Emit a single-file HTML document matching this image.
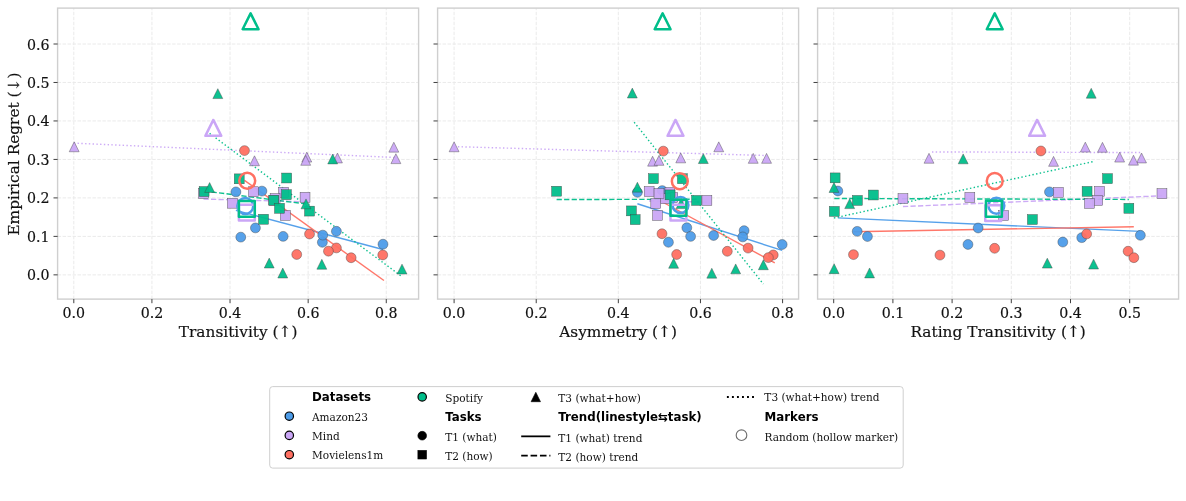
<!DOCTYPE html>
<html lang="en"><head><meta charset="utf-8"><title>Empirical Regret vs. Transitivity, Asymmetry and Rating Transitivity</title>
<style>html,body{margin:0;padding:0;background:#fff}body{width:1186px;height:501px;overflow:hidden}svg{display:block}</style>
</head><body>
<svg width="1186" height="501" viewBox="0 0 1186 501">
<rect width="1186" height="501" fill="#ffffff"/>
<g id="ax1">
<path d="M73.8 299.1V8.1M151.92 299.1V8.1M230.04 299.1V8.1M308.16 299.1V8.1M386.28 299.1V8.1M57.6 274.85H418.6M57.6 236.38H418.6M57.6 197.9H418.6M57.6 159.43H418.6M57.6 120.95H418.6M57.6 82.48H418.6M57.6 44H418.6" fill="none" stroke="#e9e9e9" stroke-width="0.94" stroke-dasharray="3.48 1.5"/>
<clipPath id="c0"><rect x="57.6" y="8.1" width="361.0" height="291.0"/></clipPath>
<g clip-path="url(#c0)">
<path d="M235.9 210.4L383 249.46" fill="none" stroke="#4d9ce9" stroke-width="1.42" opacity="0.95"/>
<path d="M203.48 199.05L305.04 201.75" fill="none" stroke="#caa6f6" stroke-width="1.42" stroke-dasharray="5.25 2.27" opacity="0.95"/>
<path d="M73.8 143.11L395.89 157.54" fill="none" stroke="#caa6f6" stroke-width="1.42" stroke-dasharray="1.42 2.34" opacity="0.95"/>
<path d="M244.49 180.36L383.94 280.54" fill="none" stroke="#ff7062" stroke-width="1.42" opacity="0.95"/>
<path d="M204.1 190.97L309.53 204.44" fill="none" stroke="#00be8a" stroke-width="1.42" stroke-dasharray="5.25 2.27" opacity="0.95"/>
<path d="M209.61 133.38L402.02 276.77" fill="none" stroke="#00be8a" stroke-width="1.42" stroke-dasharray="1.42 2.34" opacity="0.95"/>
<g fill-opacity="0.95">
<circle cx="235.9" cy="191.9" r="4.95" fill="#4d9ce9" stroke="#444444" stroke-width="0.42"/>
<circle cx="261.91" cy="191.09" r="4.95" fill="#4d9ce9" stroke="#444444" stroke-width="0.42"/>
<circle cx="255.43" cy="227.91" r="4.95" fill="#4d9ce9" stroke="#444444" stroke-width="0.42"/>
<circle cx="240.78" cy="237.14" r="4.95" fill="#4d9ce9" stroke="#444444" stroke-width="0.42"/>
<circle cx="283.16" cy="236.38" r="4.95" fill="#4d9ce9" stroke="#444444" stroke-width="0.42"/>
<circle cx="322.38" cy="242.34" r="4.95" fill="#4d9ce9" stroke="#444444" stroke-width="0.42"/>
<circle cx="322.73" cy="235.11" r="4.95" fill="#4d9ce9" stroke="#444444" stroke-width="0.42"/>
<circle cx="336.4" cy="231.3" r="4.95" fill="#4d9ce9" stroke="#444444" stroke-width="0.42"/>
<circle cx="383" cy="244.19" r="4.95" fill="#4d9ce9" stroke="#444444" stroke-width="0.42"/>
</g>
<g fill-opacity="0.95">
<rect x="198.53" y="188.56" width="9.9" height="9.9" fill="#caa6f6" stroke="#444444" stroke-width="0.42"/>
<rect x="248.53" y="186.79" width="9.9" height="9.9" fill="#caa6f6" stroke="#444444" stroke-width="0.42"/>
<rect x="227.43" y="198.26" width="9.9" height="9.9" fill="#caa6f6" stroke="#444444" stroke-width="0.42"/>
<rect x="300.09" y="192.37" width="9.9" height="9.9" fill="#caa6f6" stroke="#444444" stroke-width="0.42"/>
<rect x="280.44" y="210.46" width="9.9" height="9.9" fill="#caa6f6" stroke="#444444" stroke-width="0.42"/>
<rect x="278.6" y="187.33" width="9.9" height="9.9" fill="#caa6f6" stroke="#444444" stroke-width="0.42"/>
<rect x="270.13" y="193.57" width="9.9" height="9.9" fill="#caa6f6" stroke="#444444" stroke-width="0.42"/>
<rect x="268.84" y="195.45" width="9.9" height="9.9" fill="#caa6f6" stroke="#444444" stroke-width="0.42"/>
</g>
<g fill-opacity="0.95">
<path d="M74.19 141.86L69.24 151.76L79.14 151.76Z" fill="#caa6f6" stroke="#444444" stroke-width="0.42"/>
<path d="M254.49 155.82L249.54 165.72L259.44 165.72Z" fill="#caa6f6" stroke="#444444" stroke-width="0.42"/>
<path d="M306.79 152.17L301.84 162.07L311.74 162.07Z" fill="#caa6f6" stroke="#444444" stroke-width="0.42"/>
<path d="M305.7 155.4L300.75 165.3L310.65 165.3Z" fill="#caa6f6" stroke="#444444" stroke-width="0.42"/>
<path d="M337.46 153.05L332.51 162.95L342.41 162.95Z" fill="#caa6f6" stroke="#444444" stroke-width="0.42"/>
<path d="M393.82 142.24L388.87 152.14L398.77 152.14Z" fill="#caa6f6" stroke="#444444" stroke-width="0.42"/>
<path d="M395.89 153.71L390.94 163.61L400.84 163.61Z" fill="#caa6f6" stroke="#444444" stroke-width="0.42"/>
</g>
<g fill-opacity="0.95">
<circle cx="244.49" cy="150.58" r="4.95" fill="#ff7062" stroke="#444444" stroke-width="0.42"/>
<circle cx="309.53" cy="233.99" r="4.95" fill="#ff7062" stroke="#444444" stroke-width="0.42"/>
<circle cx="296.72" cy="254.46" r="4.95" fill="#ff7062" stroke="#444444" stroke-width="0.42"/>
<circle cx="336.4" cy="247.92" r="4.95" fill="#ff7062" stroke="#444444" stroke-width="0.42"/>
<circle cx="328.47" cy="251.19" r="4.95" fill="#ff7062" stroke="#444444" stroke-width="0.42"/>
<circle cx="351.13" cy="257.73" r="4.95" fill="#ff7062" stroke="#444444" stroke-width="0.42"/>
<circle cx="382.76" cy="254.96" r="4.95" fill="#ff7062" stroke="#444444" stroke-width="0.42"/>
</g>
<g fill-opacity="0.95">
<rect x="199.15" y="186.6" width="9.9" height="9.9" fill="#00be8a" stroke="#444444" stroke-width="0.42"/>
<rect x="234.27" y="173.9" width="9.9" height="9.9" fill="#00be8a" stroke="#444444" stroke-width="0.42"/>
<rect x="281.73" y="173.06" width="9.9" height="9.9" fill="#00be8a" stroke="#444444" stroke-width="0.42"/>
<rect x="281.45" y="189.72" width="9.9" height="9.9" fill="#00be8a" stroke="#444444" stroke-width="0.42"/>
<rect x="268.84" y="195.26" width="9.9" height="9.9" fill="#00be8a" stroke="#444444" stroke-width="0.42"/>
<rect x="274.54" y="203.34" width="9.9" height="9.9" fill="#00be8a" stroke="#444444" stroke-width="0.42"/>
<rect x="304.58" y="206.15" width="9.9" height="9.9" fill="#00be8a" stroke="#444444" stroke-width="0.42"/>
<rect x="258.56" y="214.3" width="9.9" height="9.9" fill="#00be8a" stroke="#444444" stroke-width="0.42"/>
</g>
<g fill-opacity="0.95">
<path d="M209.61 182.56L204.66 192.46L214.56 192.46Z" fill="#00be8a" stroke="#444444" stroke-width="0.42"/>
<path d="M217.81 88.68L212.86 98.58L222.76 98.58Z" fill="#00be8a" stroke="#444444" stroke-width="0.42"/>
<path d="M306.01 198.91L301.06 208.81L310.96 208.81Z" fill="#00be8a" stroke="#444444" stroke-width="0.42"/>
<path d="M332.69 154.01L327.74 163.91L337.64 163.91Z" fill="#00be8a" stroke="#444444" stroke-width="0.42"/>
<path d="M269.22 258.09L264.27 267.99L274.17 267.99Z" fill="#00be8a" stroke="#444444" stroke-width="0.42"/>
<path d="M282.77 268.09L277.82 277.99L287.72 277.99Z" fill="#00be8a" stroke="#444444" stroke-width="0.42"/>
<path d="M321.83 259.32L316.88 269.22L326.78 269.22Z" fill="#00be8a" stroke="#444444" stroke-width="0.42"/>
<path d="M402.02 264.13L397.07 274.03L406.97 274.03Z" fill="#00be8a" stroke="#444444" stroke-width="0.42"/>
</g>
<circle cx="245.27" cy="205.98" r="7.95" fill="none" stroke="#4d9ce9" stroke-width="2.5" stroke-linejoin="round"/>
<rect x="238.89" y="204.65" width="15.9" height="15.9" fill="none" stroke="#caa6f6" stroke-width="2.5" stroke-linejoin="round"/>
<path d="M213.32 119.93L205.37 135.83L221.27 135.83Z" fill="none" stroke="#caa6f6" stroke-width="2.5" stroke-linejoin="round"/>
<circle cx="247.23" cy="180.78" r="7.95" fill="none" stroke="#ff7062" stroke-width="2.5" stroke-linejoin="round"/>
<rect x="238.89" y="200.95" width="15.9" height="15.9" fill="none" stroke="#00be8a" stroke-width="2.5" stroke-linejoin="round"/>
<path d="M250.59 13.35L242.64 29.25L258.54 29.25Z" fill="none" stroke="#00be8a" stroke-width="2.5" stroke-linejoin="round"/>
</g>
<rect x="57.6" y="8.1" width="361.0" height="291.0" fill="none" stroke="#cfcfcf" stroke-width="1.4"/>
<path d="M73.8 299.1v4.1M151.92 299.1v4.1M230.04 299.1v4.1M308.16 299.1v4.1M386.28 299.1v4.1M57.6 274.85h-4.1M57.6 236.38h-4.1M57.6 197.9h-4.1M57.6 159.43h-4.1M57.6 120.95h-4.1M57.6 82.48h-4.1M57.6 44h-4.1" fill="none" stroke="#333333" stroke-width="0.94"/>
<g font-family="'DejaVu Serif','Liberation Serif',serif" font-size="14.17" fill="#111111" stroke="#111111" stroke-width="0.18" text-anchor="middle">
<text x="73.8" y="318.0">0.0</text>
<text x="151.92" y="318.0">0.2</text>
<text x="230.04" y="318.0">0.4</text>
<text x="308.16" y="318.0">0.6</text>
<text x="386.28" y="318.0">0.8</text>
</g>
<g font-family="'DejaVu Serif','Liberation Serif',serif" font-size="14.17" fill="#111111" stroke="#111111" stroke-width="0.18" text-anchor="end">
<text x="49.4" y="280.35">0.0</text>
<text x="49.4" y="241.88">0.1</text>
<text x="49.4" y="203.4">0.2</text>
<text x="49.4" y="164.93">0.3</text>
<text x="49.4" y="126.45">0.4</text>
<text x="49.4" y="87.98">0.5</text>
<text x="49.4" y="49.5">0.6</text>
</g>
<text x="238.1" y="336.5" font-family="'DejaVu Serif','Liberation Serif',serif" font-size="15.35" fill="#111111" stroke="#111111" stroke-width="0.18" text-anchor="middle">Transitivity (↑)</text>
</g>
<g id="ax2">
<path d="M454.1 299.1V8.1M536.22 299.1V8.1M618.34 299.1V8.1M700.46 299.1V8.1M782.58 299.1V8.1M437.6 274.85H798.6M437.6 236.38H798.6M437.6 197.9H798.6M437.6 159.43H798.6M437.6 120.95H798.6M437.6 82.48H798.6M437.6 44H798.6" fill="none" stroke="#e9e9e9" stroke-width="0.94" stroke-dasharray="3.48 1.5"/>
<clipPath id="c1"><rect x="437.6" y="8.1" width="361.0" height="291.0"/></clipPath>
<g clip-path="url(#c1)">
<path d="M637.39 203.79L782.17 250.42" fill="none" stroke="#4d9ce9" stroke-width="1.42" opacity="0.95"/>
<path d="M649.13 200.98L706.91 202.13" fill="none" stroke="#caa6f6" stroke-width="1.42" stroke-dasharray="5.25 2.27" opacity="0.95"/>
<path d="M454.1 146.61L766.57 155.5" fill="none" stroke="#caa6f6" stroke-width="1.42" stroke-dasharray="1.42 2.34" opacity="0.95"/>
<path d="M661.99 201.75L774.78 262.85" fill="none" stroke="#ff7062" stroke-width="1.42" opacity="0.95"/>
<path d="M556.59 199.52L696.52 199.25" fill="none" stroke="#00be8a" stroke-width="1.42" stroke-dasharray="5.25 2.27" opacity="0.95"/>
<path d="M634.15 122.22L763.36 284.01" fill="none" stroke="#00be8a" stroke-width="1.42" stroke-dasharray="1.42 2.34" opacity="0.95"/>
<g fill-opacity="0.95">
<circle cx="637.39" cy="192.32" r="4.95" fill="#4d9ce9" stroke="#444444" stroke-width="0.42"/>
<circle cx="662.19" cy="190.59" r="4.95" fill="#4d9ce9" stroke="#444444" stroke-width="0.42"/>
<circle cx="668.43" cy="242.3" r="4.95" fill="#4d9ce9" stroke="#444444" stroke-width="0.42"/>
<circle cx="686.83" cy="227.72" r="4.95" fill="#4d9ce9" stroke="#444444" stroke-width="0.42"/>
<circle cx="690.61" cy="236.41" r="4.95" fill="#4d9ce9" stroke="#444444" stroke-width="0.42"/>
<circle cx="713.6" cy="235.49" r="4.95" fill="#4d9ce9" stroke="#444444" stroke-width="0.42"/>
<circle cx="744.11" cy="230.64" r="4.95" fill="#4d9ce9" stroke="#444444" stroke-width="0.42"/>
<circle cx="742.75" cy="236.91" r="4.95" fill="#4d9ce9" stroke="#444444" stroke-width="0.42"/>
<circle cx="782.17" cy="244.49" r="4.95" fill="#4d9ce9" stroke="#444444" stroke-width="0.42"/>
</g>
<g fill-opacity="0.95">
<rect x="644.18" y="186.56" width="9.9" height="9.9" fill="#caa6f6" stroke="#444444" stroke-width="0.42"/>
<rect x="664.96" y="187.45" width="9.9" height="9.9" fill="#caa6f6" stroke="#444444" stroke-width="0.42"/>
<rect x="667.88" y="192.57" width="9.9" height="9.9" fill="#caa6f6" stroke="#444444" stroke-width="0.42"/>
<rect x="660.61" y="193.72" width="9.9" height="9.9" fill="#caa6f6" stroke="#444444" stroke-width="0.42"/>
<rect x="654.04" y="188.45" width="9.9" height="9.9" fill="#caa6f6" stroke="#444444" stroke-width="0.42"/>
<rect x="650.84" y="198.57" width="9.9" height="9.9" fill="#caa6f6" stroke="#444444" stroke-width="0.42"/>
<rect x="652.56" y="210.46" width="9.9" height="9.9" fill="#caa6f6" stroke="#444444" stroke-width="0.42"/>
<rect x="701.96" y="195.45" width="9.9" height="9.9" fill="#caa6f6" stroke="#444444" stroke-width="0.42"/>
</g>
<g fill-opacity="0.95">
<path d="M454.1 141.86L449.15 151.76L459.05 151.76Z" fill="#caa6f6" stroke="#444444" stroke-width="0.42"/>
<path d="M652.58 156.24L647.63 166.14L657.53 166.14Z" fill="#caa6f6" stroke="#444444" stroke-width="0.42"/>
<path d="M658.99 155.44L654.04 165.34L663.94 165.34Z" fill="#caa6f6" stroke="#444444" stroke-width="0.42"/>
<path d="M680.75 152.94L675.8 162.84L685.7 162.84Z" fill="#caa6f6" stroke="#444444" stroke-width="0.42"/>
<path d="M718.77 141.86L713.82 151.76L723.72 151.76Z" fill="#caa6f6" stroke="#444444" stroke-width="0.42"/>
<path d="M753.22 153.4L748.27 163.3L758.17 163.3Z" fill="#caa6f6" stroke="#444444" stroke-width="0.42"/>
<path d="M766.57 153.4L761.62 163.3L771.52 163.3Z" fill="#caa6f6" stroke="#444444" stroke-width="0.42"/>
</g>
<g fill-opacity="0.95">
<circle cx="663.3" cy="151.11" r="4.95" fill="#ff7062" stroke="#444444" stroke-width="0.42"/>
<circle cx="661.99" cy="233.76" r="4.95" fill="#ff7062" stroke="#444444" stroke-width="0.42"/>
<circle cx="676.65" cy="254.5" r="4.95" fill="#ff7062" stroke="#444444" stroke-width="0.42"/>
<circle cx="727.31" cy="251.3" r="4.95" fill="#ff7062" stroke="#444444" stroke-width="0.42"/>
<circle cx="748.09" cy="248.11" r="4.95" fill="#ff7062" stroke="#444444" stroke-width="0.42"/>
<circle cx="773.22" cy="254.92" r="4.95" fill="#ff7062" stroke="#444444" stroke-width="0.42"/>
<circle cx="768.37" cy="257.61" r="4.95" fill="#ff7062" stroke="#444444" stroke-width="0.42"/>
</g>
<g fill-opacity="0.95">
<rect x="551.64" y="186.26" width="9.9" height="9.9" fill="#00be8a" stroke="#444444" stroke-width="0.42"/>
<rect x="648.46" y="173.75" width="9.9" height="9.9" fill="#00be8a" stroke="#444444" stroke-width="0.42"/>
<rect x="677.44" y="173.75" width="9.9" height="9.9" fill="#00be8a" stroke="#444444" stroke-width="0.42"/>
<rect x="665.13" y="189.95" width="9.9" height="9.9" fill="#00be8a" stroke="#444444" stroke-width="0.42"/>
<rect x="691.57" y="195.45" width="9.9" height="9.9" fill="#00be8a" stroke="#444444" stroke-width="0.42"/>
<rect x="626.45" y="205.95" width="9.9" height="9.9" fill="#00be8a" stroke="#444444" stroke-width="0.42"/>
<rect x="630.22" y="214.65" width="9.9" height="9.9" fill="#00be8a" stroke="#444444" stroke-width="0.42"/>
</g>
<g fill-opacity="0.95">
<path d="M632.3 88.11L627.35 98.01L637.25 98.01Z" fill="#00be8a" stroke="#444444" stroke-width="0.42"/>
<path d="M637.39 182.25L632.44 192.15L642.34 192.15Z" fill="#00be8a" stroke="#444444" stroke-width="0.42"/>
<path d="M703.33 153.63L698.38 163.53L708.28 163.53Z" fill="#00be8a" stroke="#444444" stroke-width="0.42"/>
<path d="M673.61 258.36L668.66 268.26L678.56 268.26Z" fill="#00be8a" stroke="#444444" stroke-width="0.42"/>
<path d="M711.79 268.25L706.84 278.15L716.74 278.15Z" fill="#00be8a" stroke="#444444" stroke-width="0.42"/>
<path d="M735.69 263.94L730.74 273.84L740.64 273.84Z" fill="#00be8a" stroke="#444444" stroke-width="0.42"/>
<path d="M763.36 259.82L758.41 269.72L768.31 269.72Z" fill="#00be8a" stroke="#444444" stroke-width="0.42"/>
<path d="M681.08 198.72L676.13 208.62L686.03 208.62Z" fill="#00be8a" stroke="#444444" stroke-width="0.42"/>
</g>
<circle cx="680.5" cy="204.9" r="7.95" fill="none" stroke="#4d9ce9" stroke-width="2.5" stroke-linejoin="round"/>
<rect x="670.46" y="204.65" width="15.9" height="15.9" fill="none" stroke="#caa6f6" stroke-width="2.5" stroke-linejoin="round"/>
<path d="M675.5 119.93L667.55 135.83L683.45 135.83Z" fill="none" stroke="#caa6f6" stroke-width="2.5" stroke-linejoin="round"/>
<circle cx="679.81" cy="181.2" r="7.95" fill="none" stroke="#ff7062" stroke-width="2.5" stroke-linejoin="round"/>
<rect x="670.46" y="199.76" width="15.9" height="15.9" fill="none" stroke="#00be8a" stroke-width="2.5" stroke-linejoin="round"/>
<path d="M662.6 13.35L654.65 29.25L670.55 29.25Z" fill="none" stroke="#00be8a" stroke-width="2.5" stroke-linejoin="round"/>
</g>
<rect x="437.6" y="8.1" width="361.0" height="291.0" fill="none" stroke="#cfcfcf" stroke-width="1.4"/>
<path d="M454.1 299.1v4.1M536.22 299.1v4.1M618.34 299.1v4.1M700.46 299.1v4.1M782.58 299.1v4.1M437.6 274.85h-4.1M437.6 236.38h-4.1M437.6 197.9h-4.1M437.6 159.43h-4.1M437.6 120.95h-4.1M437.6 82.48h-4.1M437.6 44h-4.1" fill="none" stroke="#333333" stroke-width="0.94"/>
<g font-family="'DejaVu Serif','Liberation Serif',serif" font-size="14.17" fill="#111111" stroke="#111111" stroke-width="0.18" text-anchor="middle">
<text x="454.1" y="318.0">0.0</text>
<text x="536.22" y="318.0">0.2</text>
<text x="618.34" y="318.0">0.4</text>
<text x="700.46" y="318.0">0.6</text>
<text x="782.58" y="318.0">0.8</text>
</g>
<text x="618.1" y="336.5" font-family="'DejaVu Serif','Liberation Serif',serif" font-size="15.35" fill="#111111" stroke="#111111" stroke-width="0.18" text-anchor="middle">Asymmetry (↑)</text>
</g>
<g id="ax3">
<path d="M833.7 299.1V8.1M892.9 299.1V8.1M952.1 299.1V8.1M1011.3 299.1V8.1M1070.5 299.1V8.1M1129.7 299.1V8.1M817.6 274.85H1178.6M817.6 236.38H1178.6M817.6 197.9H1178.6M817.6 159.43H1178.6M817.6 120.95H1178.6M817.6 82.48H1178.6M817.6 44H1178.6" fill="none" stroke="#e9e9e9" stroke-width="0.94" stroke-dasharray="3.48 1.5"/>
<clipPath id="c2"><rect x="817.6" y="8.1" width="360.9999999999999" height="291.0"/></clipPath>
<g clip-path="url(#c2)">
<path d="M837.84 217.91L1140.36 231.37" fill="none" stroke="#4d9ce9" stroke-width="1.42" opacity="0.95"/>
<path d="M902.96 206.56L1161.96 195.78" fill="none" stroke="#caa6f6" stroke-width="1.42" stroke-dasharray="5.25 2.27" opacity="0.95"/>
<path d="M931.97 151.92L1141.54 152.58" fill="none" stroke="#caa6f6" stroke-width="1.42" stroke-dasharray="1.42 2.34" opacity="0.95"/>
<path d="M853.47 231.76L1133.84 226.76" fill="none" stroke="#ff7062" stroke-width="1.42" opacity="0.95"/>
<path d="M834.29 198.48L1128.87 199.44" fill="none" stroke="#00be8a" stroke-width="1.42" stroke-dasharray="5.25 2.27" opacity="0.95"/>
<path d="M834 217.98L1093.77 161.46" fill="none" stroke="#00be8a" stroke-width="1.42" stroke-dasharray="1.42 2.34" opacity="0.95"/>
<g fill-opacity="0.95">
<circle cx="837.84" cy="190.97" r="4.95" fill="#4d9ce9" stroke="#444444" stroke-width="0.42"/>
<circle cx="857.2" cy="231.37" r="4.95" fill="#4d9ce9" stroke="#444444" stroke-width="0.42"/>
<circle cx="867.44" cy="236.49" r="4.95" fill="#4d9ce9" stroke="#444444" stroke-width="0.42"/>
<circle cx="967.97" cy="244.45" r="4.95" fill="#4d9ce9" stroke="#444444" stroke-width="0.42"/>
<circle cx="978.15" cy="227.99" r="4.95" fill="#4d9ce9" stroke="#444444" stroke-width="0.42"/>
<circle cx="1049.48" cy="191.9" r="4.95" fill="#4d9ce9" stroke="#444444" stroke-width="0.42"/>
<circle cx="1062.8" cy="242.07" r="4.95" fill="#4d9ce9" stroke="#444444" stroke-width="0.42"/>
<circle cx="1081.75" cy="237.64" r="4.95" fill="#4d9ce9" stroke="#444444" stroke-width="0.42"/>
<circle cx="1140.36" cy="235.3" r="4.95" fill="#4d9ce9" stroke="#444444" stroke-width="0.42"/>
</g>
<g fill-opacity="0.95">
<rect x="898.01" y="193.72" width="9.9" height="9.9" fill="#caa6f6" stroke="#444444" stroke-width="0.42"/>
<rect x="964.91" y="192.45" width="9.9" height="9.9" fill="#caa6f6" stroke="#444444" stroke-width="0.42"/>
<rect x="998.71" y="210.57" width="9.9" height="9.9" fill="#caa6f6" stroke="#444444" stroke-width="0.42"/>
<rect x="1053.41" y="187.45" width="9.9" height="9.9" fill="#caa6f6" stroke="#444444" stroke-width="0.42"/>
<rect x="1094.56" y="186.41" width="9.9" height="9.9" fill="#caa6f6" stroke="#444444" stroke-width="0.42"/>
<rect x="1092.78" y="195.45" width="9.9" height="9.9" fill="#caa6f6" stroke="#444444" stroke-width="0.42"/>
<rect x="1084.49" y="198.45" width="9.9" height="9.9" fill="#caa6f6" stroke="#444444" stroke-width="0.42"/>
<rect x="1157.01" y="188.72" width="9.9" height="9.9" fill="#caa6f6" stroke="#444444" stroke-width="0.42"/>
</g>
<g fill-opacity="0.95">
<path d="M929.01 153.32L924.06 163.22L933.96 163.22Z" fill="#caa6f6" stroke="#444444" stroke-width="0.42"/>
<path d="M1053.57 156.4L1048.62 166.3L1058.52 166.3Z" fill="#caa6f6" stroke="#444444" stroke-width="0.42"/>
<path d="M1085.3 142.16L1080.35 152.06L1090.25 152.06Z" fill="#caa6f6" stroke="#444444" stroke-width="0.42"/>
<path d="M1102.47 142.36L1097.52 152.26L1107.42 152.26Z" fill="#caa6f6" stroke="#444444" stroke-width="0.42"/>
<path d="M1119.64 152.17L1114.69 162.07L1124.59 162.07Z" fill="#caa6f6" stroke="#444444" stroke-width="0.42"/>
<path d="M1141.54 153.05L1136.59 162.95L1146.49 162.95Z" fill="#caa6f6" stroke="#444444" stroke-width="0.42"/>
<path d="M1133.49 155.24L1128.54 165.14L1138.44 165.14Z" fill="#caa6f6" stroke="#444444" stroke-width="0.42"/>
</g>
<g fill-opacity="0.95">
<circle cx="853.47" cy="254.61" r="4.95" fill="#ff7062" stroke="#444444" stroke-width="0.42"/>
<circle cx="939.96" cy="255.11" r="4.95" fill="#ff7062" stroke="#444444" stroke-width="0.42"/>
<circle cx="994.61" cy="248.3" r="4.95" fill="#ff7062" stroke="#444444" stroke-width="0.42"/>
<circle cx="1040.9" cy="150.96" r="4.95" fill="#ff7062" stroke="#444444" stroke-width="0.42"/>
<circle cx="1086.66" cy="233.91" r="4.95" fill="#ff7062" stroke="#444444" stroke-width="0.42"/>
<circle cx="1128.1" cy="251.23" r="4.95" fill="#ff7062" stroke="#444444" stroke-width="0.42"/>
<circle cx="1133.84" cy="257.69" r="4.95" fill="#ff7062" stroke="#444444" stroke-width="0.42"/>
</g>
<g fill-opacity="0.95">
<rect x="830.17" y="172.94" width="9.9" height="9.9" fill="#00be8a" stroke="#444444" stroke-width="0.42"/>
<rect x="829.34" y="206.42" width="9.9" height="9.9" fill="#00be8a" stroke="#444444" stroke-width="0.42"/>
<rect x="852.43" y="195.45" width="9.9" height="9.9" fill="#00be8a" stroke="#444444" stroke-width="0.42"/>
<rect x="868.41" y="190.06" width="9.9" height="9.9" fill="#00be8a" stroke="#444444" stroke-width="0.42"/>
<rect x="1027.43" y="214.57" width="9.9" height="9.9" fill="#00be8a" stroke="#444444" stroke-width="0.42"/>
<rect x="1082.13" y="186.41" width="9.9" height="9.9" fill="#00be8a" stroke="#444444" stroke-width="0.42"/>
<rect x="1102.55" y="173.71" width="9.9" height="9.9" fill="#00be8a" stroke="#444444" stroke-width="0.42"/>
<rect x="1123.92" y="203.34" width="9.9" height="9.9" fill="#00be8a" stroke="#444444" stroke-width="0.42"/>
</g>
<g fill-opacity="0.95">
<path d="M834 182.56L829.05 192.46L838.95 192.46Z" fill="#00be8a" stroke="#444444" stroke-width="0.42"/>
<path d="M849.68 198.72L844.73 208.62L854.63 208.62Z" fill="#00be8a" stroke="#444444" stroke-width="0.42"/>
<path d="M834.11 263.74L829.16 273.64L839.06 273.64Z" fill="#00be8a" stroke="#444444" stroke-width="0.42"/>
<path d="M869.58 267.98L864.63 277.88L874.53 277.88Z" fill="#00be8a" stroke="#444444" stroke-width="0.42"/>
<path d="M963.17 153.9L958.22 163.8L968.12 163.8Z" fill="#00be8a" stroke="#444444" stroke-width="0.42"/>
<path d="M1047.29 258.17L1042.34 268.07L1052.24 268.07Z" fill="#00be8a" stroke="#444444" stroke-width="0.42"/>
<path d="M1093.59 259.13L1088.64 269.03L1098.54 269.03Z" fill="#00be8a" stroke="#444444" stroke-width="0.42"/>
<path d="M1091.22 88.3L1086.27 98.2L1096.17 98.2Z" fill="#00be8a" stroke="#444444" stroke-width="0.42"/>
</g>
<circle cx="996.38" cy="205.79" r="7.95" fill="none" stroke="#4d9ce9" stroke-width="2.5" stroke-linejoin="round"/>
<rect x="985.23" y="205.15" width="15.9" height="15.9" fill="none" stroke="#caa6f6" stroke-width="2.5" stroke-linejoin="round"/>
<path d="M1037.11 119.93L1029.16 135.83L1045.06 135.83Z" fill="none" stroke="#caa6f6" stroke-width="2.5" stroke-linejoin="round"/>
<circle cx="994.72" cy="180.97" r="7.95" fill="none" stroke="#ff7062" stroke-width="2.5" stroke-linejoin="round"/>
<rect x="985.95" y="200.8" width="15.9" height="15.9" fill="none" stroke="#00be8a" stroke-width="2.5" stroke-linejoin="round"/>
<path d="M994.72 13.35L986.77 29.25L1002.67 29.25Z" fill="none" stroke="#00be8a" stroke-width="2.5" stroke-linejoin="round"/>
</g>
<rect x="817.6" y="8.1" width="360.9999999999999" height="291.0" fill="none" stroke="#cfcfcf" stroke-width="1.4"/>
<path d="M833.7 299.1v4.1M892.9 299.1v4.1M952.1 299.1v4.1M1011.3 299.1v4.1M1070.5 299.1v4.1M1129.7 299.1v4.1M817.6 274.85h-4.1M817.6 236.38h-4.1M817.6 197.9h-4.1M817.6 159.43h-4.1M817.6 120.95h-4.1M817.6 82.48h-4.1M817.6 44h-4.1" fill="none" stroke="#333333" stroke-width="0.94"/>
<g font-family="'DejaVu Serif','Liberation Serif',serif" font-size="14.17" fill="#111111" stroke="#111111" stroke-width="0.18" text-anchor="middle">
<text x="833.7" y="318.0">0.0</text>
<text x="892.9" y="318.0">0.1</text>
<text x="952.1" y="318.0">0.2</text>
<text x="1011.3" y="318.0">0.3</text>
<text x="1070.5" y="318.0">0.4</text>
<text x="1129.7" y="318.0">0.5</text>
</g>
<text x="998.1" y="336.5" font-family="'DejaVu Serif','Liberation Serif',serif" font-size="15.35" fill="#111111" stroke="#111111" stroke-width="0.18" text-anchor="middle">Rating Transitivity (↑)</text>
</g>
<text transform="translate(18.7 154.1) rotate(-90)" font-family="'DejaVu Serif','Liberation Serif',serif" font-size="15.35" fill="#111111" stroke="#111111" stroke-width="0.18" text-anchor="middle">Empirical Regret (↓)</text>
<g id="legend">
<rect x="269.7" y="386.6" width="633.5" height="81.5" rx="3" ry="3" fill="#ffffff" stroke="#cccccc" stroke-width="0.95"/>
<text x="312" y="400.7" font-family="'DejaVu Sans','Liberation Sans',sans-serif" font-size="11.8" font-weight="bold" fill="#000">Datasets</text>
<circle cx="289.3" cy="416.2" r="4.2" fill="#4d9ce9" stroke="#000" stroke-width="1.2"/>
<text x="312" y="421.1" font-family="'DejaVu Serif','Liberation Serif',serif" font-size="10.55" fill="#111111">Amazon23</text>
<circle cx="289.3" cy="435.4" r="4.2" fill="#caa6f6" stroke="#000" stroke-width="1.2"/>
<text x="312" y="440.2" font-family="'DejaVu Serif','Liberation Serif',serif" font-size="10.55" fill="#111111">Mind</text>
<circle cx="289.3" cy="454.7" r="4.2" fill="#ff7062" stroke="#000" stroke-width="1.2"/>
<text x="312" y="459.4" font-family="'DejaVu Serif','Liberation Serif',serif" font-size="10.55" fill="#111111">Movielens1m</text>
<circle cx="422.2" cy="396.9" r="4.2" fill="#00be8a" stroke="#000" stroke-width="1.2"/>
<text x="445.2" y="401.7" font-family="'DejaVu Serif','Liberation Serif',serif" font-size="10.55" fill="#111111">Spotify</text>
<text x="445.2" y="420.6" font-family="'DejaVu Sans','Liberation Sans',sans-serif" font-size="11.8" font-weight="bold" fill="#000">Tasks</text>
<circle cx="422.2" cy="435.7" r="4.35" fill="#000" stroke="#000" stroke-width="0.6"/>
<text x="445.2" y="440.6" font-family="'DejaVu Serif','Liberation Serif',serif" font-size="10.55" fill="#111111">T1 (what)</text>
<rect x="417.9" y="450.4" width="8.6" height="8.6" fill="#000" stroke="#000" stroke-width="0.6"/>
<text x="445.2" y="459.5" font-family="'DejaVu Serif','Liberation Serif',serif" font-size="10.55" fill="#111111">T2 (how)</text>
<path d="M535.8 392.3L531.1 401.7L540.5 401.7Z" fill="#000" stroke="#000" stroke-width="0.6"/>
<text x="558.3" y="401.7" font-family="'DejaVu Serif','Liberation Serif',serif" font-size="10.55" fill="#111111">T3 (what+how)</text>
<text x="558.3" y="420.6" font-family="'DejaVu Sans','Liberation Sans',sans-serif" font-size="11.8" font-weight="bold" fill="#000">Trend(linestyle⇆task)</text>
<path d="M521.2 436.35H550.4" fill="none" stroke="#000" stroke-width="1.77"/>
<text x="558.3" y="441.7" font-family="'DejaVu Serif','Liberation Serif',serif" font-size="10.55" fill="#111111">T1 (what) trend</text>
<path d="M521.2 455.7H550.4" fill="none" stroke="#000" stroke-width="1.77" stroke-dasharray="6.55 2.83"/>
<text x="558.3" y="460.8" font-family="'DejaVu Serif','Liberation Serif',serif" font-size="10.55" fill="#111111">T2 (how) trend</text>
<path d="M726.9 397H756.1" fill="none" stroke="#000" stroke-width="1.9" stroke-dasharray="1.9 3.13"/>
<text x="764.35" y="401.45" font-family="'DejaVu Serif','Liberation Serif',serif" font-size="10.55" fill="#111111">T3 (what+how) trend</text>
<text x="764.6" y="420.5" font-family="'DejaVu Sans','Liberation Sans',sans-serif" font-size="11.8" font-weight="bold" fill="#000">Markers</text>
<circle cx="741.5" cy="435.2" r="5.3" fill="none" stroke="#707070" stroke-width="1.15"/>
<text x="764.6" y="440.55" font-family="'DejaVu Serif','Liberation Serif',serif" font-size="10.55" fill="#111111">Random (hollow marker)</text>
</g>
</svg>
</body></html>
